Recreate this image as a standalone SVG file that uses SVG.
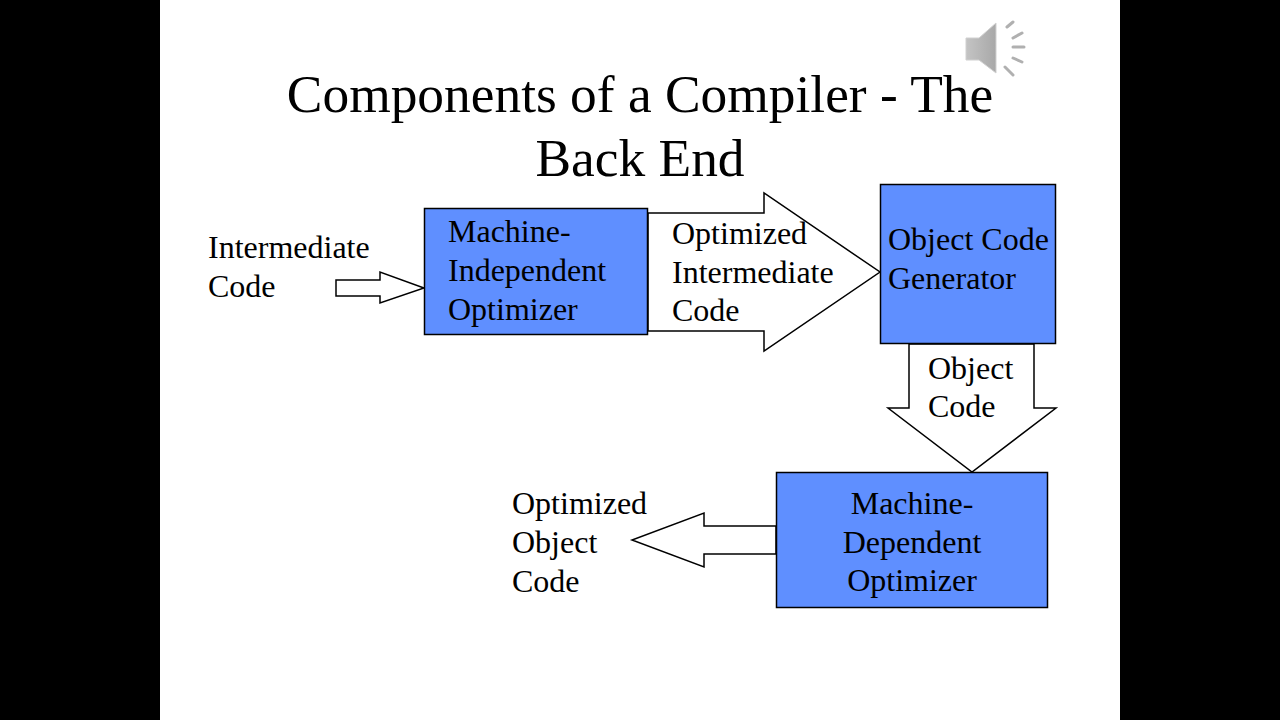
<svg xmlns="http://www.w3.org/2000/svg" width="1280" height="720" viewBox="0 0 1280 720">
<style>
text{font-family:"Liberation Serif","Times New Roman",serif;fill:#000;font-size:32px}
.t{font-size:53.4px}
.b{fill:#5f8fff;stroke:#000;stroke-width:1.5}
.a{fill:#fff;stroke:#000;stroke-width:1.5}
</style>
<defs>
<linearGradient id="sg" x1="0" y1="0" x2="1" y2="0"><stop offset="0" stop-color="#c4c4c4"/><stop offset="1" stop-color="#a8a8a8"/></linearGradient>
</defs>
<rect width="1280" height="720" fill="#000"/>
<rect x="160" width="960" height="720" fill="#fff"/>
<g id="title"><text class="t" x="640" y="112" text-anchor="middle">Components of a Compiler - The</text><text class="t" x="640" y="176" text-anchor="middle">Back End</text></g>
<g id="speaker">
<path d="M966 38H979L996 23V73L979 60H966Z" fill="url(#sg)" stroke="#d0d0d0" stroke-width="1"/>
<path d="M1007 27L1013 22M1013 38L1022 33M1013 47H1024M1013 58L1022 62M1005 67L1013 75" stroke="#b0b0b0" stroke-width="3" stroke-linecap="round" fill="none"/>
</g>
<g id="connectors">
<path class="a" d="M336 280H380V272L424 288L380 303V296H336Z"/>
<path class="a" d="M648 213H764V193L880 272L764 351V331H648Z"/>
<path class="a" d="M909 344H1034V408H1056L972 472L888 408H909Z"/>
<path class="a" d="M776 526H704V513L632 540L704 567V554H776Z"/>
</g>
<g id="n1"><rect class="b" x="424.500" y="208.500" width="223" height="126"/><text x="448" y="242">Machine-</text><text x="448" y="281">Independent</text><text x="448" y="320">Optimizer</text></g>
<g id="n2"><rect class="b" x="880.500" y="184.500" width="175" height="159"/><text x="888" y="250">Object Code</text><text x="888" y="289">Generator</text></g>
<g id="n3"><rect class="b" x="776.500" y="472.500" width="271" height="135"/><text x="912" y="514" text-anchor="middle">Machine-</text><text x="912" y="553" text-anchor="middle">Dependent</text><text x="912" y="591" text-anchor="middle">Optimizer</text></g>
<g id="labels">
<text x="208" y="258">Intermediate</text><text x="208" y="297">Code</text>
<text x="672" y="244">Optimized</text><text x="672" y="283">Intermediate</text><text x="672" y="321">Code</text>
<text x="928" y="379">Object</text><text x="928" y="417">Code</text>
<text x="512" y="514">Optimized</text><text x="512" y="553">Object</text><text x="512" y="592">Code</text>
</g>
</svg>
